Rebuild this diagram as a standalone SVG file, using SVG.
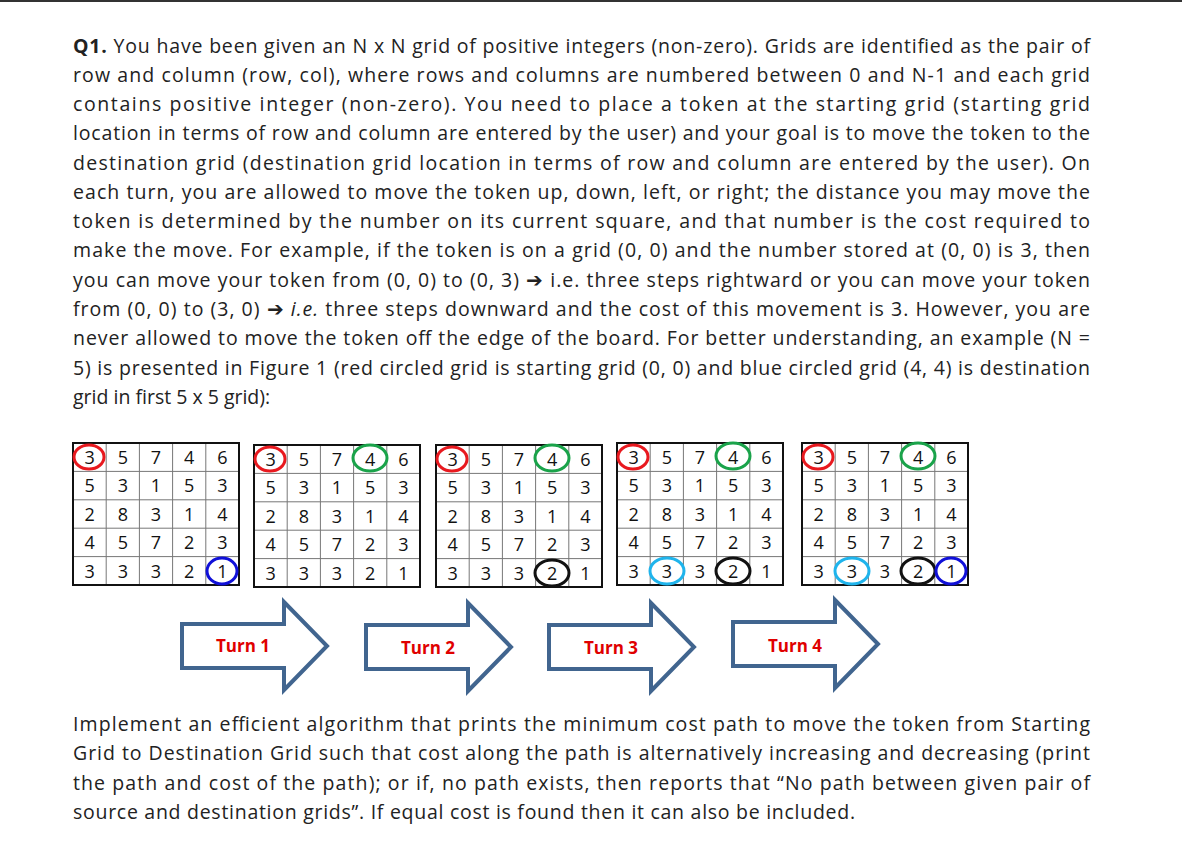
<svg xmlns="http://www.w3.org/2000/svg" width="1182" height="846" viewBox="0 0 1182 846">
<style>
.t{font-family:"Open Sans","Liberation Sans",sans-serif;font-size:19.5px;fill:#222}
.n{font-family:"Open Sans","Liberation Sans",sans-serif;font-size:18px;fill:#111;text-anchor:middle}
.g{fill:#fff;stroke:#999;stroke-width:1}
.b{fill:none;stroke:#111;stroke-width:2}
.c{fill:none;stroke-width:3}
.ar{fill:#fff;stroke:#41658f;stroke-width:4}
.lb{font-family:"Open Sans","Liberation Sans",sans-serif;font-size:17px;font-weight:bold;fill:#e00000;text-anchor:middle}
</style>
<defs>
<g id="grid">
<rect class="g" x="0" y="0" width="166" height="142"/>
<path d="M33.2 0V142M66.4 0V142M99.6 0V142M132.8 0V142M0 28.4H166M0 56.8H166M0 85.2H166M0 113.6H166" stroke="#777" stroke-width="1"/>
<rect class="b" x="0" y="0" width="166" height="142"/>
<g class="n">
<text x="16.6" y="21">3</text><text x="49.8" y="21">5</text><text x="83" y="21">7</text><text x="116.2" y="21">4</text><text x="149.4" y="21">6</text>
<text x="16.6" y="49.4">5</text><text x="49.8" y="49.4">3</text><text x="83" y="49.4">1</text><text x="116.2" y="49.4">5</text><text x="149.4" y="49.4">3</text>
<text x="16.6" y="77.8">2</text><text x="49.8" y="77.8">8</text><text x="83" y="77.8">3</text><text x="116.2" y="77.8">1</text><text x="149.4" y="77.8">4</text>
<text x="16.6" y="106.2">4</text><text x="49.8" y="106.2">5</text><text x="83" y="106.2">7</text><text x="116.2" y="106.2">2</text><text x="149.4" y="106.2">3</text>
<text x="16.6" y="134.6">3</text><text x="49.8" y="134.6">3</text><text x="83" y="134.6">3</text><text x="116.2" y="134.6">2</text><text x="149.4" y="134.6">1</text>
</g>
</g>
<path id="arrow" d="M0 22H102V0L145 44L102 88V66H0Z"/>
</defs>
<line x1="0" y1="1" x2="1182" y2="1" stroke="#333" stroke-width="2"/>
<g id="text1" class="t">
<text x="73" y="53" textLength="1017" lengthAdjust="spacing"><tspan font-weight="bold">Q1.</tspan> You have been given an N x N grid of positive integers (non-zero). Grids are identified as the pair of</text>
<text x="73" y="82" textLength="1017" lengthAdjust="spacing">row and column (row, col), where rows and columns are numbered between 0 and N-1 and each grid</text>
<text x="73" y="111" textLength="1017" lengthAdjust="spacing">contains positive integer (non-zero). You need to place a token at the starting grid (starting grid</text>
<text x="73" y="140" textLength="1017" lengthAdjust="spacing">location in terms of row and column are entered by the user) and your goal is to move the token to the</text>
<text x="73" y="170" textLength="1017" lengthAdjust="spacing">destination grid (destination grid location in terms of row and column are entered by the user). On</text>
<text x="73" y="199" textLength="1017" lengthAdjust="spacing">each turn, you are allowed to move the token up, down, left, or right; the distance you may move the</text>
<text x="73" y="228" textLength="1017" lengthAdjust="spacing">token is determined by the number on its current square, and that number is the cost required to</text>
<text x="73" y="257" textLength="1017" lengthAdjust="spacing">make the move. For example, if the token is on a grid (0, 0) and the number stored at (0, 0) is 3, then</text>
<text x="73" y="287" textLength="1017" lengthAdjust="spacing">you can move your token from (0, 0) to (0, 3) ➔ i.e. three steps rightward or you can move your token</text>
<text x="73" y="316" textLength="1017" lengthAdjust="spacing">from (0, 0) to (3, 0) ➔ <tspan font-style="italic">i.e.</tspan> three steps downward and the cost of this movement is 3. However, you are</text>
<text x="73" y="345" textLength="1017" lengthAdjust="spacing">never allowed to move the token off the edge of the board. For better understanding, an example (N =</text>
<text x="73" y="375" textLength="1017" lengthAdjust="spacing">5) is presented in Figure 1 (red circled grid is starting grid (0, 0) and blue circled grid (4, 4) is destination</text>
<text x="73" y="404">grid in first 5 x 5 grid):</text>
</g>
<g id="grid1" transform="translate(73,443)"><use href="#grid"/>
<ellipse class="c" stroke="#e8191f" cx="16" cy="14" rx="15" ry="12"/>
<ellipse class="c" stroke="#1010d8" cx="149" cy="128" rx="15" ry="13"/></g>
<g id="grid2" transform="translate(254,445)"><use href="#grid"/>
<ellipse class="c" stroke="#e8191f" cx="16" cy="14" rx="15" ry="12"/>
<ellipse class="c" stroke="#1aa34a" cx="116" cy="13" rx="17" ry="13"/></g>
<g id="grid3" transform="translate(436,445)"><use href="#grid"/>
<ellipse class="c" stroke="#e8191f" cx="16" cy="14" rx="15" ry="12"/>
<ellipse class="c" stroke="#1aa34a" cx="116" cy="13" rx="17" ry="13"/>
<ellipse class="c" stroke="#111" cx="116" cy="128" rx="17" ry="13"/></g>
<g id="grid4" transform="translate(617,443)"><use href="#grid"/>
<ellipse class="c" stroke="#e8191f" cx="16" cy="14" rx="15" ry="12"/>
<ellipse class="c" stroke="#1aa34a" cx="116" cy="13" rx="17" ry="13"/>
<ellipse class="c" stroke="#1fb4ec" cx="50" cy="128" rx="17" ry="13"/>
<ellipse class="c" stroke="#111" cx="116" cy="128" rx="17" ry="13"/></g>
<g id="grid5" transform="translate(802,443)"><use href="#grid"/>
<ellipse class="c" stroke="#e8191f" cx="16" cy="14" rx="15" ry="12"/>
<ellipse class="c" stroke="#1aa34a" cx="116" cy="13" rx="17" ry="13"/>
<ellipse class="c" stroke="#1fb4ec" cx="50" cy="128" rx="17" ry="13"/>
<ellipse class="c" stroke="#111" cx="116" cy="128" rx="17" ry="13"/>
<ellipse class="c" stroke="#1010d8" cx="149" cy="128" rx="15" ry="13"/></g>
<g id="connectors">
<g id="turn1"><use href="#arrow" class="ar" transform="translate(182,602)"/><text class="lb" x="243" y="652">Turn 1</text></g>
<g id="turn2"><use href="#arrow" class="ar" transform="translate(366,603)"/><text class="lb" x="428" y="654">Turn 2</text></g>
<g id="turn3"><use href="#arrow" class="ar" transform="translate(549,603)"/><text class="lb" x="611" y="654">Turn 3</text></g>
<g id="turn4"><use href="#arrow" class="ar" transform="translate(733,600)"/><text class="lb" x="795" y="652">Turn 4</text></g>
</g>
<g id="text2" class="t">
<text x="73" y="731" textLength="1017" lengthAdjust="spacing">Implement an efficient algorithm that prints the minimum cost path to move the token from Starting</text>
<text x="73" y="760" textLength="1017" lengthAdjust="spacing">Grid to Destination Grid such that cost along the path is alternatively increasing and decreasing (print</text>
<text x="73" y="790" textLength="1017" lengthAdjust="spacing">the path and cost of the path); or if, no path exists, then reports that “No path between given pair of</text>
<text x="73" y="819" textLength="782" lengthAdjust="spacing">source and destination grids”. If equal cost is found then it can also be included.</text>
</g>
</svg>
